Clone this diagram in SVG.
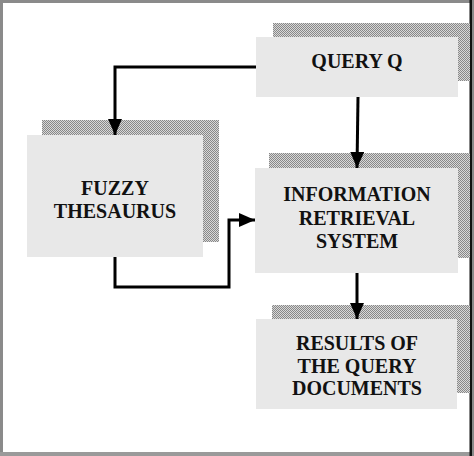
<svg xmlns="http://www.w3.org/2000/svg" width="474" height="456" viewBox="0 0 474 456">
  <defs>
    <pattern id="chk" x="0" y="0" width="4" height="4" patternUnits="userSpaceOnUse">
      <rect x="0" y="0" width="4" height="4" fill="#d8d8d8"/>
      <path d="M0,0h1v1h-1zM2,0h1v1h-1zM1,1h1v1h-1zM3,1h1v1h-1zM0,2h1v1h-1zM2,2h1v1h-1zM1,3h1v1h-1zM3,3h1v1h-1z" fill="#888"/>
    </pattern>
    <marker id="ah" markerWidth="16" markerHeight="14" viewBox="0 0 16 14" refX="16" refY="7" orient="auto" markerUnits="userSpaceOnUse">
      <path d="M0,0 L16,7 L0,14 Z" fill="#000"/>
    </marker>
  </defs>
  <style>
    .box { fill: #e8e8e8; }
    .shadow { fill: url(#chk); }
    .lbl { font-family: "Liberation Serif", "Times New Roman", serif; font-weight: bold; font-size: 20px; fill: #111; text-anchor: middle; }
    .conn { fill: none; stroke: #000; stroke-width: 3; }
  </style>
  <rect x="0" y="0" width="474" height="456" fill="#fff"/>
  <rect x="0" y="0" width="474" height="3" fill="#8a8a8a"/>
  <rect x="0" y="0" width="3" height="456" fill="#8a8a8a"/>
  <rect x="0" y="452" width="474" height="4" fill="#9a9a9a"/>
  <rect x="472" y="0" width="2" height="456" fill="#8a8a8a"/>
  <rect x="469.5" y="0" width="2.5" height="456" fill="#111"/>

  <g id="query">
    <rect class="shadow" x="273" y="23" width="197" height="58"/>
    <rect class="box" x="256" y="37" width="202" height="60"/>
    <text class="lbl" x="357" y="68">QUERY Q</text>
  </g>

  <g id="thesaurus">
    <rect class="shadow" x="42" y="120" width="177" height="122"/>
    <rect class="box" x="27" y="135" width="176" height="122"/>
    <text class="lbl" x="115" y="195">FUZZY</text>
    <text class="lbl" x="115" y="218">THESAURUS</text>
  </g>

  <g id="irs">
    <rect class="shadow" x="269" y="153" width="201" height="105"/>
    <rect class="box" x="255" y="168" width="203" height="105"/>
    <text class="lbl" x="357" y="201">INFORMATION</text>
    <text class="lbl" x="357" y="225">RETRIEVAL</text>
    <text class="lbl" x="357" y="248">SYSTEM</text>
  </g>

  <g id="results">
    <rect class="shadow" x="272" y="305" width="198" height="88"/>
    <rect class="box" x="256" y="319" width="201" height="90"/>
    <text class="lbl" x="357" y="350">RESULTS OF</text>
    <text class="lbl" x="357" y="373">THE QUERY</text>
    <text class="lbl" x="357" y="395">DOCUMENTS</text>
  </g>

  <g id="connectors">
    <path class="conn" d="M256,67 H115 V135" marker-end="url(#ah)"/>
    <path class="conn" d="M115,257 V287 H229 V220 H255" marker-end="url(#ah)"/>
    <path class="conn" d="M358,97 L357,168" marker-end="url(#ah)"/>
    <path class="conn" d="M357,273 V319" marker-end="url(#ah)"/>
  </g>
</svg>
